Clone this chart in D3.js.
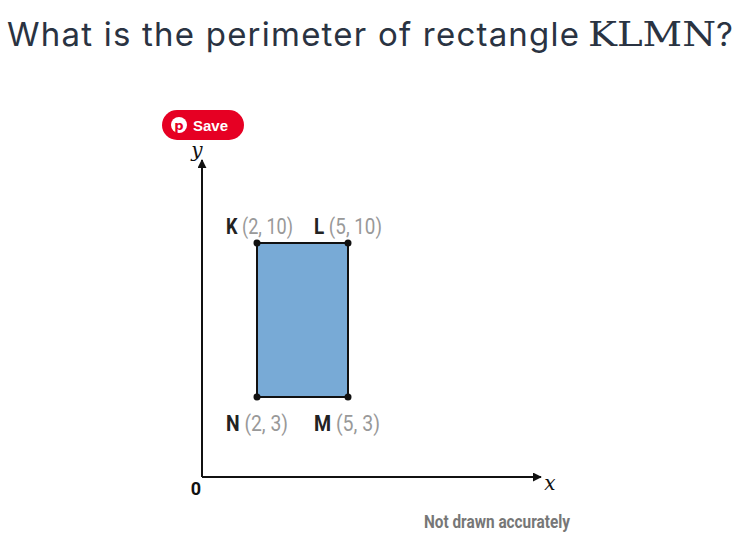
<!DOCTYPE html><html><head><meta charset="utf-8">
<script src="https://cdn.jsdelivr.net/npm/d3@7"></script>
<style>body{margin:0;background:#fff}</style></head><body>
<script>
const names=["K","L","M","N"];
const xs=[2,5,5,2];
const ys=[10,10,3,3];
const labels=["(2, 10)","(5, 10)","(5, 3)","(2, 3)"];
const labelWidths=[67,68,66,62];
const svg=d3.select("body").append("svg").attr("width",751).attr("height",555);
const x=d3.scaleLinear().domain([2,5]).range([257,348]);
const y=d3.scaleLinear().domain([3,10]).range([397,243]);
const t=svg.append("text").attr("x",7).attr("y",46).attr("font-family","Inter, 'Open Sans', sans-serif").attr("font-size",33).attr("fill","#2a3342");
t.append("tspan").attr("textLength",572).attr("lengthAdjust","spacing").text("What is the perimeter of rectangle");
t.append("tspan").attr("x",588).attr("font-family","'DejaVu Serif', 'Liberation Serif', serif").attr("font-size",34).attr("textLength",128).attr("lengthAdjust","spacingAndGlyphs").text("KLMN");
t.append("tspan").text("?");
svg.append("rect").attr("x",162).attr("y",110).attr("width",82).attr("height",30).attr("rx",15).attr("fill","#e60023");
svg.append("circle").attr("cx",179).attr("cy",125).attr("r",8).attr("fill","#fff");
svg.append("text").attr("x",179).attr("y",130).attr("text-anchor","middle").attr("font-family","'DejaVu Sans',sans-serif").attr("font-weight","bold").attr("font-size",13).attr("fill","#e60023").text("p");
svg.append("text").attr("x",193).attr("y",131).attr("font-family","'Liberation Sans',Arial,sans-serif").attr("font-weight","bold").attr("font-size",15).attr("fill","#fff").text("Save");
const defs=svg.append("defs");
defs.append("marker").attr("id","ar").attr("viewBox","0 0 10 10").attr("refX",9).attr("refY",5).attr("markerWidth",9).attr("markerHeight",9).attr("markerUnits","userSpaceOnUse").attr("orient","auto").append("path").attr("d","M0,0L10,5L0,10z").attr("fill","#111");
svg.append("line").attr("x1",202).attr("y1",477).attr("x2",202).attr("y2",160).attr("stroke","#111").attr("stroke-width",2).attr("marker-end","url(#ar)");
svg.append("line").attr("x1",202).attr("y1",477).attr("x2",541).attr("y2",477).attr("stroke","#111").attr("stroke-width",2).attr("marker-end","url(#ar)");
svg.append("text").attr("x",197).attr("y",157).attr("text-anchor","middle").attr("font-family","'DejaVu Serif',serif").attr("font-style","italic").attr("font-size",20).attr("fill","#111").text("y");
svg.append("text").attr("x",550).attr("y",490).attr("text-anchor","middle").attr("font-family","'DejaVu Serif',serif").attr("font-style","italic").attr("font-size",20).attr("fill","#111").text("x");
svg.append("text").attr("x",196).attr("y",495).attr("text-anchor","middle").attr("font-family","Roboto,sans-serif").attr("font-weight","bold").attr("font-size",18).attr("fill","#111").text("0");
svg.append("text").attr("x",424).attr("y",528).attr("textLength",146).attr("lengthAdjust","spacingAndGlyphs").attr("font-family","Roboto,sans-serif").attr("font-weight","bold").attr("font-size",18).attr("fill","#777").text("Not drawn accurately");
svg.append("polygon").attr("points",xs.map((v,i)=>x(v)+","+y(ys[i])).join(" ")).attr("fill","#78aad6").attr("stroke","#111").attr("stroke-width",2);
svg.selectAll("circle.pt").data(xs).join("circle").attr("class","pt").attr("cx",d=>x(d)).attr("cy",(d,i)=>y(ys[i])).attr("r",3.5).attr("fill","#111");
const lab=svg.selectAll("text.lab").data(names).join("text").attr("class","lab")
 .attr("x",(d,i)=>x(xs[i])-(xs[i]>3?34:31)).attr("y",(d,i)=>ys[i]>5?y(ys[i])-9:y(ys[i])+34)
 .attr("textLength",(d,i)=>labelWidths[i]).attr("lengthAdjust","spacingAndGlyphs")
 .attr("font-family","Roboto,sans-serif").attr("font-size",22);
lab.append("tspan").attr("font-weight","bold").attr("fill","#222").text(d=>d);
lab.append("tspan").attr("fill","#999").text((d,i)=>" "+labels[i]);
</script></body></html>
